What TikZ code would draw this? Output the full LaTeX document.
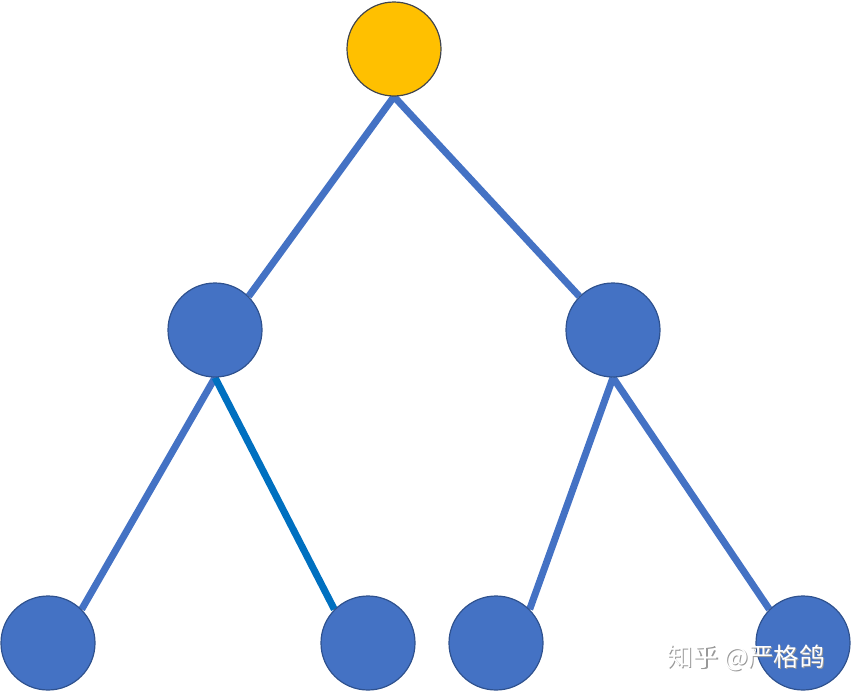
\documentclass[tikz,border=0pt]{standalone}
\usepackage{fontspec}
\newfontfamily\cjk{Noto Sans CJK SC}
\usetikzlibrary{backgrounds}
\definecolor{nodeblue}{HTML}{4472C4}
\definecolor{rimblue}{HTML}{2F528F}
\definecolor{rootgold}{HTML}{FFC000}
\definecolor{rootrim}{HTML}{42464D}
\definecolor{deepblue}{HTML}{0070C0}
\begin{document}
\begin{tikzpicture}[x=1pt, y=-1pt,
    vertex/.style={circle, minimum size=94pt, inner sep=0pt, fill=nodeblue, draw=rimblue, line width=1.2pt},
    rootvertex/.style={vertex, fill=rootgold, draw=rootrim},
    edge/.style={line width=7pt, draw=nodeblue}]
    \useasboundingbox (0, 0) rectangle (851, 694);

    %% levels
    \node[rootvertex] (top) at (394, 49) {};
    \node[vertex] (midl) at (215, 330) {};
    \node[vertex] (midr) at (613, 330) {};
    \node[vertex] (leafa) at (48, 643) {};
    \node[vertex] (leafb) at (368, 643) {};
    \node[vertex] (leafc) at (496, 643) {};
    \node[vertex] (leafd) at (803, 643) {};

    \begin{scope}[on background layer]
    \draw[edge] (top.south) -- (midl.north east);
    \draw[edge] (top.south) -- (midr.north west);
    \draw[edge] (midl.south) -- (leafa.north east);
    \draw[edge, draw=deepblue] (midl.south) -- (leafb.north west);
    \draw[edge] (midr.south) -- (leafc.north east);
    \draw[edge] (midr.south) -- (leafd.north west);
    \end{scope}

    %% watermark
    \node[text=gray!80, font=\cjk\fontsize{25.5}{25.5}\selectfont] at (747.2, 659.2) {知乎 @严格鸽};
    \node[text=white, font=\cjk\fontsize{25.5}{25.5}\selectfont] (mark) at (746, 658) {知乎 @严格鸽};
\end{tikzpicture}
\end{document}
